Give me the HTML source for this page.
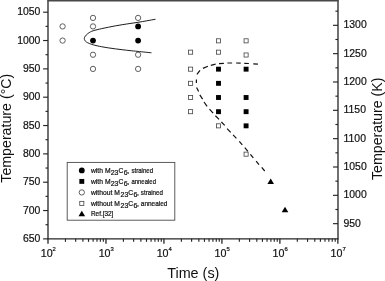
<!DOCTYPE html><html><head><meta charset="utf-8"><title>TTT diagram</title><style>html,body{margin:0;padding:0;background:#fff}svg{display:block}text{font-family:"Liberation Sans",Arial,sans-serif;fill:#111}</style></head><body>
<svg width="385" height="281" viewBox="0 0 385 281">
<rect width="385" height="281" fill="#fff"/>
<g stroke="#262626" stroke-width="1.3" fill="none">
<path d="M48.0 243.85V0.2M338.0 0.2V238.85"/>
<path stroke="#484848" stroke-width="1.6" d="M47.35 0.8H338.65"/>
<path d="M47.4 238.85H338.65"/>
<path stroke-width="1.15" d="M43.1 238.88H48.0"/>
<path stroke-width="1.15" d="M45.5 224.71H48.0"/>
<path stroke-width="1.15" d="M43.1 210.54H48.0"/>
<path stroke-width="1.15" d="M45.5 196.38H48.0"/>
<path stroke-width="1.15" d="M43.1 182.21H48.0"/>
<path stroke-width="1.15" d="M45.5 168.04H48.0"/>
<path stroke-width="1.15" d="M43.1 153.87H48.0"/>
<path stroke-width="1.15" d="M45.5 139.71H48.0"/>
<path stroke-width="1.15" d="M43.1 125.54H48.0"/>
<path stroke-width="1.15" d="M45.5 111.37H48.0"/>
<path stroke-width="1.15" d="M43.1 97.20H48.0"/>
<path stroke-width="1.15" d="M45.5 83.04H48.0"/>
<path stroke-width="1.15" d="M43.1 68.87H48.0"/>
<path stroke-width="1.15" d="M45.5 54.70H48.0"/>
<path stroke-width="1.15" d="M43.1 40.53H48.0"/>
<path stroke-width="1.15" d="M45.5 26.37H48.0"/>
<path stroke-width="1.15" d="M43.1 12.20H48.0"/>
<path stroke-width="1.15" d="M333.0 223.66H338.0"/>
<path stroke-width="1.15" d="M335.4 209.50H338.0"/>
<path stroke-width="1.15" d="M333.0 195.33H338.0"/>
<path stroke-width="1.15" d="M335.4 181.16H338.0"/>
<path stroke-width="1.15" d="M333.0 166.99H338.0"/>
<path stroke-width="1.15" d="M335.4 152.83H338.0"/>
<path stroke-width="1.15" d="M333.0 138.66H338.0"/>
<path stroke-width="1.15" d="M335.4 124.49H338.0"/>
<path stroke-width="1.15" d="M333.0 110.32H338.0"/>
<path stroke-width="1.15" d="M335.4 96.16H338.0"/>
<path stroke-width="1.15" d="M333.0 81.99H338.0"/>
<path stroke-width="1.15" d="M335.4 67.82H338.0"/>
<path stroke-width="1.15" d="M333.0 53.65H338.0"/>
<path stroke-width="1.15" d="M335.4 39.49H338.0"/>
<path stroke-width="1.15" d="M333.0 25.32H338.0"/>
<path stroke-width="1.15" d="M335.4 11.15H338.0"/>
<path stroke-width="1.15" d="M65.45 238.85V241.85"/>
<path stroke-width="1.15" d="M75.66 238.85V241.85"/>
<path stroke-width="1.15" d="M82.90 238.85V241.85"/>
<path stroke-width="1.15" d="M88.52 238.85V241.85"/>
<path stroke-width="1.15" d="M93.11 238.85V241.85"/>
<path stroke-width="1.15" d="M96.99 238.85V241.85"/>
<path stroke-width="1.15" d="M100.35 238.85V241.85"/>
<path stroke-width="1.15" d="M103.32 238.85V241.85"/>
<path d="M105.97 238.85V243.85"/>
<path stroke-width="1.15" d="M123.42 238.85V241.85"/>
<path stroke-width="1.15" d="M133.63 238.85V241.85"/>
<path stroke-width="1.15" d="M140.87 238.85V241.85"/>
<path stroke-width="1.15" d="M146.49 238.85V241.85"/>
<path stroke-width="1.15" d="M151.08 238.85V241.85"/>
<path stroke-width="1.15" d="M154.96 238.85V241.85"/>
<path stroke-width="1.15" d="M158.32 238.85V241.85"/>
<path stroke-width="1.15" d="M161.29 238.85V241.85"/>
<path d="M163.94 238.85V243.85"/>
<path stroke-width="1.15" d="M181.39 238.85V241.85"/>
<path stroke-width="1.15" d="M191.60 238.85V241.85"/>
<path stroke-width="1.15" d="M198.84 238.85V241.85"/>
<path stroke-width="1.15" d="M204.46 238.85V241.85"/>
<path stroke-width="1.15" d="M209.05 238.85V241.85"/>
<path stroke-width="1.15" d="M212.93 238.85V241.85"/>
<path stroke-width="1.15" d="M216.29 238.85V241.85"/>
<path stroke-width="1.15" d="M219.26 238.85V241.85"/>
<path d="M221.91 238.85V243.85"/>
<path stroke-width="1.15" d="M239.36 238.85V241.85"/>
<path stroke-width="1.15" d="M249.57 238.85V241.85"/>
<path stroke-width="1.15" d="M256.81 238.85V241.85"/>
<path stroke-width="1.15" d="M262.43 238.85V241.85"/>
<path stroke-width="1.15" d="M267.02 238.85V241.85"/>
<path stroke-width="1.15" d="M270.90 238.85V241.85"/>
<path stroke-width="1.15" d="M274.26 238.85V241.85"/>
<path stroke-width="1.15" d="M277.23 238.85V241.85"/>
<path d="M279.88 238.85V243.85"/>
<path stroke-width="1.15" d="M297.33 238.85V241.85"/>
<path stroke-width="1.15" d="M307.54 238.85V241.85"/>
<path stroke-width="1.15" d="M314.78 238.85V241.85"/>
<path stroke-width="1.15" d="M320.40 238.85V241.85"/>
<path stroke-width="1.15" d="M324.99 238.85V241.85"/>
<path stroke-width="1.15" d="M328.87 238.85V241.85"/>
<path stroke-width="1.15" d="M332.23 238.85V241.85"/>
<path stroke-width="1.15" d="M335.20 238.85V241.85"/>
<path d="M337.85 238.85V243.85"/>
</g>
<g font-size="10.45" stroke="#111" stroke-width="0.2">
<text x="40.4" y="242.08" text-anchor="end">650</text>
<text x="40.4" y="213.74" text-anchor="end">700</text>
<text x="40.4" y="185.41" text-anchor="end">750</text>
<text x="40.4" y="157.07" text-anchor="end">800</text>
<text x="40.4" y="128.74" text-anchor="end">850</text>
<text x="40.4" y="100.41" text-anchor="end">900</text>
<text x="40.4" y="72.07" text-anchor="end">950</text>
<text x="40.4" y="43.73" text-anchor="end">1000</text>
<text x="40.4" y="15.40" text-anchor="end">1050</text>
<text x="343.5" y="226.76">950</text>
<text x="343.5" y="198.43">1000</text>
<text x="343.5" y="170.09">1050</text>
<text x="343.5" y="141.76">1100</text>
<text x="343.5" y="113.42">1150</text>
<text x="343.5" y="85.09">1200</text>
<text x="343.5" y="56.75">1250</text>
<text x="343.5" y="28.42">1300</text>
<text x="40.70" y="256.8" font-size="10.7">10<tspan font-size="5.9" dy="-5.7">2</tspan></text>
<text x="98.67" y="256.8" font-size="10.7">10<tspan font-size="5.9" dy="-5.7">3</tspan></text>
<text x="156.64" y="256.8" font-size="10.7">10<tspan font-size="5.9" dy="-5.7">4</tspan></text>
<text x="214.61" y="256.8" font-size="10.7">10<tspan font-size="5.9" dy="-5.7">5</tspan></text>
<text x="272.58" y="256.8" font-size="10.7">10<tspan font-size="5.9" dy="-5.7">6</tspan></text>
<text x="330.55" y="256.8" font-size="10.7">10<tspan font-size="5.9" dy="-5.7">7</tspan></text>
</g>
<text font-size="14.4" text-anchor="middle" x="193.3" y="277.5">Time (s)</text>
<text font-size="14.2" text-anchor="middle" transform="translate(11.4 128.2) rotate(-90)">Temperature (°C)</text>
<text font-size="14.2" text-anchor="middle" transform="translate(381.8 128.8) rotate(-90)">Temperature (K)</text>
<path fill="none" stroke="#111" stroke-width="0.95" d="M155.5 19.2C154.1 19.5 149.7 20.3 146.8 20.8C143.9 21.3 140.8 21.9 138.0 22.3C135.2 22.8 132.5 23.1 130.0 23.5C127.5 23.9 125.3 24.2 122.9 24.6C120.5 25.0 118.1 25.4 115.7 25.8C113.3 26.2 111.0 26.7 108.6 27.2C106.2 27.7 104.0 28.1 101.4 28.7C98.8 29.3 95.2 30.1 93.1 30.8C91.0 31.5 90.1 32.1 88.9 32.8C87.8 33.5 86.9 34.4 86.2 35.1C85.5 35.8 85.1 36.3 84.8 36.9C84.5 37.5 84.3 38.0 84.3 38.6C84.3 39.2 84.5 39.8 84.8 40.3C85.1 40.8 85.5 41.4 86.2 41.9C86.9 42.4 87.8 42.8 88.9 43.3C90.1 43.8 91.0 44.2 93.1 44.8C95.2 45.4 98.8 46.2 101.4 46.7C104.0 47.2 106.2 47.5 108.6 47.9C111.0 48.3 113.3 48.6 115.7 48.9C118.1 49.2 120.5 49.5 122.9 49.8C125.3 50.1 127.5 50.3 130.0 50.6C132.5 50.9 134.4 51.0 138.0 51.4C141.6 51.8 149.2 52.6 151.5 52.8"/>
<path fill="none" stroke="#111" stroke-width="1.2" d="M257.9 64.2L253.3 63.9M248.9 63.5L244.3 63.3M240.7 63.1L236.1 63.0M232.1 63.0L227.4 63.0M223.9 63.3L219 63.7M215.6 64.2L210.8 65.3M207.9 66.3L202.9 68.4M200 70.3L196.9 74.3M196.4 79.6L196.4 83.1M196.6 87.4L198.6 91.6M199.8 94.9L202.6 99.1M204 102L207.1 106.3M209.5 109.2L213.1 113.2M215.4 115.8L219.1 119.4M221.4 122L224.7 125.4M227.1 128.7L230.7 132.3M233.1 134.9L236.4 138.3M239.3 141.3L242.3 144.8M244.8 147.6L247.9 151.4M250.4 154.3L253.3 157.9M256.1 161.1L259 164.6M261.7 167.4L264.7 171"/>
<circle cx="62.60" cy="26.42" r="2.65" fill="#fff" stroke="#444" stroke-width="0.85"/>
<circle cx="62.60" cy="40.58" r="2.65" fill="#fff" stroke="#444" stroke-width="0.85"/>
<circle cx="93.00" cy="17.92" r="2.65" fill="#fff" stroke="#444" stroke-width="0.85"/>
<circle cx="93.00" cy="26.42" r="2.65" fill="#fff" stroke="#444" stroke-width="0.85"/>
<circle cx="93.00" cy="54.75" r="2.65" fill="#fff" stroke="#444" stroke-width="0.85"/>
<circle cx="93.00" cy="68.92" r="2.65" fill="#fff" stroke="#444" stroke-width="0.85"/>
<circle cx="93.00" cy="40.58" r="2.9" fill="#000"/>
<circle cx="138.10" cy="17.92" r="2.65" fill="#fff" stroke="#444" stroke-width="0.85"/>
<circle cx="138.10" cy="54.75" r="2.65" fill="#fff" stroke="#444" stroke-width="0.85"/>
<circle cx="138.10" cy="68.92" r="2.65" fill="#fff" stroke="#444" stroke-width="0.85"/>
<circle cx="138.10" cy="26.42" r="2.9" fill="#000"/>
<circle cx="138.10" cy="40.58" r="2.9" fill="#000"/>
<rect x="188.55" y="50.12" width="4.1" height="4.1" fill="#fff" stroke="#444" stroke-width="0.8"/>
<rect x="188.55" y="67.12" width="4.1" height="4.1" fill="#fff" stroke="#444" stroke-width="0.8"/>
<rect x="188.55" y="81.29" width="4.1" height="4.1" fill="#fff" stroke="#444" stroke-width="0.8"/>
<rect x="188.55" y="95.45" width="4.1" height="4.1" fill="#fff" stroke="#444" stroke-width="0.8"/>
<rect x="188.55" y="109.62" width="4.1" height="4.1" fill="#fff" stroke="#444" stroke-width="0.8"/>
<rect x="216.45" y="38.78" width="4.1" height="4.1" fill="#fff" stroke="#444" stroke-width="0.8"/>
<rect x="216.45" y="50.12" width="4.1" height="4.1" fill="#fff" stroke="#444" stroke-width="0.8"/>
<rect x="216.45" y="123.79" width="4.1" height="4.1" fill="#fff" stroke="#444" stroke-width="0.8"/>
<rect x="216.05" y="66.72" width="4.9" height="4.9" fill="#000"/>
<rect x="216.05" y="80.89" width="4.9" height="4.9" fill="#000"/>
<rect x="216.05" y="95.05" width="4.9" height="4.9" fill="#000"/>
<rect x="216.05" y="109.22" width="4.9" height="4.9" fill="#000"/>
<rect x="244.05" y="38.78" width="4.1" height="4.1" fill="#fff" stroke="#444" stroke-width="0.8"/>
<rect x="244.05" y="52.95" width="4.1" height="4.1" fill="#fff" stroke="#444" stroke-width="0.8"/>
<rect x="244.05" y="152.12" width="4.1" height="4.1" fill="#fff" stroke="#444" stroke-width="0.8"/>
<rect x="243.65" y="66.72" width="4.9" height="4.9" fill="#000"/>
<rect x="243.65" y="95.05" width="4.9" height="4.9" fill="#000"/>
<rect x="243.65" y="109.22" width="4.9" height="4.9" fill="#000"/>
<rect x="243.65" y="123.39" width="4.9" height="4.9" fill="#000"/>
<path d="M270.70 178.40L274.00 184.00H267.40Z" fill="#000"/>
<path d="M285.00 206.70L288.30 212.30H281.70Z" fill="#000"/>
<rect x="67.2" y="162.4" width="107.6" height="57.8" fill="#fff" stroke="#4a4a4a" stroke-width="0.9"/>
<circle cx="81.80" cy="170.40" r="2.9" fill="#000"/>
<rect x="79.35" y="178.95" width="4.9" height="4.9" fill="#000"/>
<circle cx="81.80" cy="192.40" r="2.65" fill="#fff" stroke="#444" stroke-width="0.85"/>
<rect x="79.75" y="201.35" width="4.1" height="4.1" fill="#fff" stroke="#444" stroke-width="0.8"/>
<path d="M81.80 210.70L85.10 216.30H78.50Z" fill="#000"/>
<g font-size="6.75" stroke="#1a1a1a" stroke-width="0.22">
<text y="172.55"><tspan x="91">with M</tspan><tspan x="110.7" y="174.75" font-size="7">23</tspan><tspan x="118.4" y="172.55">C</tspan><tspan x="123.8" y="174.75" font-size="7">6</tspan><tspan x="127.3" y="172.55">,</tspan><tspan x="131.4" y="172.55" textLength="21.8" lengthAdjust="spacingAndGlyphs">strained</tspan></text>
<text y="183.60"><tspan x="91">with M</tspan><tspan x="110.7" y="185.80" font-size="7">23</tspan><tspan x="118.4" y="183.60">C</tspan><tspan x="123.8" y="185.80" font-size="7">6</tspan><tspan x="127.3" y="183.60">,</tspan><tspan x="131.4" y="183.60" textLength="24.6" lengthAdjust="spacingAndGlyphs">annealed</tspan></text>
<text y="194.60"><tspan x="91">without M</tspan><tspan x="120.5" y="196.80" font-size="7">23</tspan><tspan x="128.2" y="194.60">C</tspan><tspan x="133.6" y="196.80" font-size="7">6</tspan><tspan x="137.1" y="194.60">,</tspan><tspan x="140.8" y="194.60" textLength="22.1" lengthAdjust="spacingAndGlyphs">strained</tspan></text>
<text y="205.60"><tspan x="91">without M</tspan><tspan x="120.5" y="207.80" font-size="7">23</tspan><tspan x="128.2" y="205.60">C</tspan><tspan x="133.6" y="207.80" font-size="7">6</tspan><tspan x="137.1" y="205.60">,</tspan><tspan x="140.8" y="205.60" textLength="26.6" lengthAdjust="spacingAndGlyphs">annealed</tspan></text>
<text x="91" font-size="6.4" y="216.0">Ref.[32]</text>
</g>
</svg></body></html>
